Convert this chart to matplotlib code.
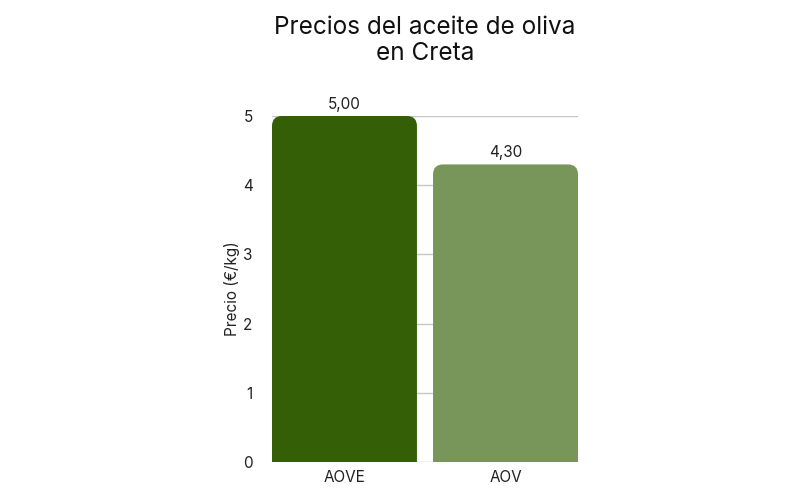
import matplotlib
matplotlib.use('Agg')
import matplotlib.pyplot as plt
from matplotlib.path import Path
from matplotlib.patches import PathPatch
from matplotlib.transforms import IdentityTransform

categories = ['AOVE', 'AOV']
prices = [5.00, 4.30]
colors = ['#345f06', '#78955a']
price_labels = ['5,00', '4,30']

plt.rcParams['font.family'] = ['Inter', 'DejaVu Sans']

fig = plt.figure(figsize=(8, 5), dpi=100)
ax = fig.add_axes([0.34, 0.076, 0.3825, 0.692])

bars = ax.bar(range(len(categories)), prices, width=0.9, color=colors, zorder=2)
ax.set_xlim(-0.45, 1.45)
ax.set_ylim(0, 5)
fig.canvas.draw()


def round_top(rect, radius=10):
    # rebuild a bar with rounded top corners, in pixel space
    x0, y0 = ax.transData.transform((rect.get_x(), 0))
    x1, y1 = ax.transData.transform((rect.get_x() + rect.get_width(), rect.get_height()))
    r = min(radius, (x1 - x0) / 2, (y1 - y0))
    verts = [(x0, y0), (x0, y1 - r), (x0, y1), (x0 + r, y1),
             (x1 - r, y1), (x1, y1), (x1, y1 - r), (x1, y0), (x0, y0)]
    codes = [Path.MOVETO, Path.LINETO, Path.CURVE3, Path.CURVE3,
             Path.LINETO, Path.CURVE3, Path.CURVE3, Path.LINETO, Path.CLOSEPOLY]
    patch = PathPatch(Path(verts, codes), facecolor=rect.get_facecolor(),
                      edgecolor='none', transform=IdentityTransform(), zorder=2)
    rect.set_visible(False)
    fig.add_artist(patch)


for b in bars:
    round_top(b)

for i, (v, lab) in enumerate(zip(prices, price_labels)):
    ax.annotate(lab, (i, v), xytext=(0, 3), textcoords='offset points',
                ha='center', va='bottom', fontsize=11, color='#222222',
                annotation_clip=False)

ax.set_yticks([0, 1, 2, 3, 4, 5])
ax.grid(axis='y', color='#c6c6c6', linewidth=1, zorder=0)
ax.set_axisbelow(True)
for s in ax.spines.values():
    s.set_visible(False)
ax.tick_params(axis='both', length=0, labelsize=11, colors='#222222')
ax.tick_params(axis='y', pad=14)
ax.tick_params(axis='x', pad=6)
ax.set_xticks(range(len(categories)))
ax.set_xticklabels(categories)
ax.set_ylabel('Precio (€/kg)', fontsize=11, color='#222222', labelpad=2)
ax.set_title('Precios del aceite de oliva\nen Creta', fontsize=17.5, color='#111111',
             pad=40, linespacing=1.2)

fig.savefig('out.png', dpi=100)
